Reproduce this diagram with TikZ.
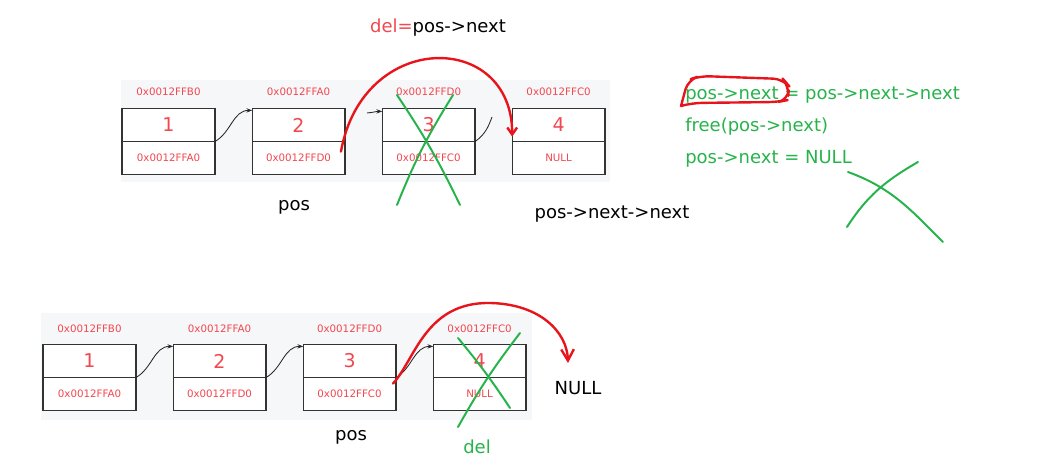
\documentclass[tikz,border=0pt]{standalone}
\usepackage{fontspec}
\setmainfont{DejaVu Sans}
\newfontfamily\boxfont{DejaVu Sans}
\usepackage{tikz}
\usetikzlibrary{calc,positioning,arrows.meta,backgrounds}

\definecolor{numred}{HTML}{F2474F}
\definecolor{penred}{HTML}{E8141B}
\definecolor{pengreen}{HTML}{27B34B}
\definecolor{boxline}{HTML}{333333}
\definecolor{listbg}{HTML}{F6F7F9}

\begin{document}
\begin{tikzpicture}[x=0.025cm,y=0.025cm,
		cell/.style={draw=boxline,line width=0.85pt,fill=white,minimum width=2.32cm,minimum height=0.83cm,
			inner sep=0pt,outer sep=0pt,text=numred,font=\boxfont\fontsize{13.5}{16}\selectfont},
		ptrcell/.style={cell,font=\boxfont\fontsize{7.3}{9}\selectfont},
		addr/.style={inner sep=0pt,text=numred,font=\boxfont\fontsize{7.3}{9}\selectfont},
		link/.style={-{Stealth[length=4pt,width=3pt]},line width=0.6pt,draw=black!85},
		redpen/.style={draw=penred,line width=1.7pt,line cap=round,line join=round},
		greenpen/.style={draw=pengreen,line width=1.4pt,line cap=round},
		note/.style={inner sep=0pt,font=\fontsize{12.8}{15}\selectfont}]
	\useasboundingbox (0,0) rectangle (1042,472);

	% first list: before deleting
	\begin{scope}
		\node(t1) at (168.5,347) [cell] {1};
		\node(t1n) [below=0pt of t1,ptrcell] {0x0012FFA0};
		\node(t2) [right=0.93cm of t1,cell] {2};
		\node(t2n) [below=0pt of t2,ptrcell] {0x0012FFD0};
		\node(t3) [right=0.93cm of t2,cell] {3};
		\node(t3n) [below=0pt of t3,ptrcell] {0x0012FFC0};
		\node(t4) [right=0.93cm of t3,cell] {4};
		\node(t4n) [below=0pt of t4,ptrcell] {NULL};
		\node(a1) [above=0.3cm of t1,addr] {0x0012FFB0};
		\node(a2) [above=0.3cm of t2,addr] {0x0012FFA0};
		\node(a3) [above=0.3cm of t3,addr] {0x0012FFD0};
		\node(a4) [above=0.3cm of t4,addr] {0x0012FFC0};
		\coordinate (c23) at (367,359);
		\coordinate (c34) at (492,355);
		\draw[link] (t1.south east) to[out=30,in=180] ($(t2.north west)+(0,-2)$);
		\draw[link] (c23) to[out=5,in=180] ($(t3.north west)+(0,-3)$);
		\draw[line width=0.6pt,draw=black!85] (t3.south east) to[out=35,in=250] (c34);
		\begin{scope}[on background layer]
			\fill[listbg] (121,392) rectangle (610,290);
		\end{scope}
		\node(pos1) at (294,265) [note] {pos};
		\node(nn) at (612,258) [note] {pos->next->next};
		\draw[redpen,-{Straight Barb[length=5pt,width=7pt]}] ($(t2n.north east)+(-4,-10)$)
			.. controls +(22,122) and +(0,106) .. ($(t4.south west)+(0,5)$);
		\draw[greenpen] (397,377) to[bend left=4] (460,267)
			(453,377) to[bend right=5] (397,267);
	\end{scope}

	\node(title) at (438,444) [note] {\textcolor{numred}{del=}pos->next};

	% the steps
	\node(code1) at (685,377) [note,anchor=west,text=pengreen] {pos->next = pos->next->next};
	\node(code2) at (685,345) [note,anchor=west,text=pengreen] {free(pos->next)};
	\node(code3) at (685,313) [note,anchor=west,text=pengreen] {pos->next = NULL};
	\draw[redpen,rounded corners=7] (681,366) -- (688,392) -- (700,396) -- (783,393) -- (789,386)
		-- (788,372) -- (778,370) -- (692,369) -- (681,366);
	\draw[greenpen] (848,300) to[out=-20,in=135] (943,230)
		(918,310) to[out=-150,in=57] (847,245);

	% second list: deleting the last node
	\begin{scope}
		\node(b1) at (89.5,111) [cell] {1};
		\node(b1n) [below=0pt of b1,ptrcell] {0x0012FFA0};
		\node(b2) [right=0.93cm of b1,cell] {2};
		\node(b2n) [below=0pt of b2,ptrcell] {0x0012FFD0};
		\node(b3) [right=0.93cm of b2,cell] {3};
		\node(b3n) [below=0pt of b3,ptrcell] {0x0012FFC0};
		\node(b4) [right=0.93cm of b3,cell] {4};
		\node(b4n) [below=0pt of b4,ptrcell] {NULL};
		\node(d1) [above=0.28cm of b1,addr] {0x0012FFB0};
		\node(d2) [above=0.28cm of b2,addr] {0x0012FFA0};
		\node(d3) [above=0.28cm of b3,addr] {0x0012FFD0};
		\node(d4) [above=0.28cm of b4,addr] {0x0012FFC0};
		\draw[link] (b1.south east) to[out=30,in=180] ($(b2.north west)+(0,-2)$);
		\draw[link] (b2.south east) to[out=30,in=180] ($(b3.north west)+(0,-2)$);
		\draw[link] (b3.south east) to[out=30,in=180] ($(b4.north west)+(0,-2)$);
		\begin{scope}[on background layer]
			\fill[listbg] (41,159) rectangle (532,52);
		\end{scope}
		\node(pos2) at (351,35) [note] {pos};
		\node(del) at (477,25) [note,text=pengreen] {del};
		\node(null) at (578,84) [note] {NULL};
		\coordinate (tip) at (568,109);
		\draw[redpen,-{Straight Barb[length=8pt,width=9pt]}] ($(b3n.north east)+(-3,-6)$)
			.. controls (415,112) and (425,170) .. (490,169)
			.. controls (540,168) and (567,140) .. (tip);
		\draw[greenpen] (458,134) to[bend left=3] (510,64)
			(520,139) to[bend right=4] (458,45);
	\end{scope}
\end{tikzpicture}
\end{document}
